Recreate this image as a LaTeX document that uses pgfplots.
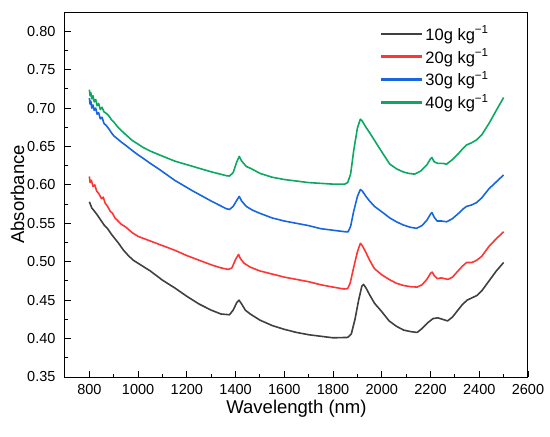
\documentclass[border=0pt]{standalone}
\usepackage{fontspec}
\setmainfont{Liberation Sans}
\usepackage{pgfplots}
\pgfplotsset{compat=1.18}
\definecolor{cA}{HTML}{404040}
\definecolor{cB}{HTML}{FF3535}
\definecolor{cC}{HTML}{1766E0}
\definecolor{cD}{HTML}{0AA860}
\begin{document}
\begin{tikzpicture}[x=1pt,y=1pt]
\begin{axis}[
  scale only axis, width=463pt, height=365pt,
  xmin=700, xmax=2600, ymin=0.35, ymax=0.825,
  xtick={800,1000,...,2600}, minor x tick num=1,
  ytick={0.35,0.40,...,0.801}, minor y tick num=1,
  yticklabel style={/pgf/number format/fixed, /pgf/number format/fixed zerofill, /pgf/number format/precision=2},
  xticklabel style={/pgf/number format/1000 sep={}},
  /pgf/number format/assume math mode=true,
  tick align=inside, xtick pos=bottom, ytick pos=left,
  major tick length=6pt, minor tick length=3pt,
  tick style={black, line width=0.9pt},
  axis line style={black, line width=1pt},
  ticklabel style={font=\fontsize{14.5}{17}\selectfont},
  yticklabel style={xshift=-6pt},
  xticklabel style={yshift=-4pt},
  xlabel={Wavelength (nm)}, ylabel={Absorbance},
  label style={font=\fontsize{18.5}{22}\selectfont},
  xlabel style={yshift=2pt},
  ylabel style={yshift=-4pt},
  legend style={draw=none, fill=none, at={(0.68,0.968)}, anchor=north west,
    font=\fontsize{16.5}{19}\selectfont, row sep=3.2pt, inner sep=0pt,
    /tikz/every even column/.append style={column sep=0pt}},
  legend cell align=left,
  legend image code/.code={\draw[#1, line width=2.4pt] (0pt,0pt) -- (41pt,0pt);},
  every axis plot/.append style={line width=1.6pt, line join=round},
]
\addplot[cA] coordinates {
(800,0.578)(810,0.570)(820,0.566)(830,0.562)(845,0.555)(860,0.548)(875,0.543)(890,0.536)(905,0.530)(920,0.524)(940,0.515)(960,0.508)(980,0.502)(1000,0.498)(1050,0.488)(1100,0.476)(1150,0.466)(1200,0.455)(1250,0.445)(1300,0.437)(1340,0.432)(1375,0.431)(1390,0.437)(1405,0.447)(1414,0.450)(1425,0.445)(1440,0.437)(1460,0.432)(1480,0.428)(1500,0.424)(1550,0.417)(1600,0.412)(1650,0.408)(1700,0.405)(1750,0.403)(1800,0.401)(1860,0.4015)(1875,0.406)(1890,0.425)(1905,0.450)(1918,0.468)(1925,0.4705)(1935,0.466)(1950,0.457)(1970,0.446)(2000,0.435)(2030,0.423)(2060,0.416)(2090,0.411)(2120,0.409)(2145,0.408)(2165,0.413)(2190,0.421)(2210,0.426)(2230,0.427)(2250,0.425)(2270,0.423)(2290,0.428)(2310,0.436)(2330,0.444)(2350,0.450)(2370,0.453)(2390,0.456)(2410,0.462)(2440,0.475)(2470,0.488)(2500,0.499)
};
\addlegendentry{10g kg\textsuperscript{−1}}
\addplot[cB] coordinates {
(800,0.611)(803,0.603)(808,0.606)(815,0.598)(822,0.600)(830,0.592)(840,0.588)(850,0.582)(857,0.584)(865,0.576)(875,0.572)(885,0.566)(895,0.563)(905,0.557)(915,0.554)(930,0.549)(950,0.545)(975,0.538)(1000,0.533)(1050,0.527)(1100,0.521)(1150,0.515)(1200,0.508)(1250,0.502)(1300,0.496)(1340,0.492)(1370,0.490)(1385,0.492)(1400,0.503)(1412,0.5095)(1420,0.504)(1435,0.498)(1460,0.493)(1500,0.488)(1550,0.484)(1600,0.480)(1650,0.477)(1700,0.474)(1750,0.470)(1800,0.467)(1845,0.4645)(1860,0.465)(1870,0.472)(1885,0.493)(1900,0.513)(1912,0.524)(1920,0.521)(1935,0.512)(1950,0.502)(1970,0.491)(2000,0.483)(2030,0.477)(2060,0.472)(2090,0.469)(2120,0.4675)(2145,0.467)(2165,0.470)(2185,0.477)(2200,0.485)(2207,0.4865)(2215,0.482)(2228,0.478)(2245,0.479)(2258,0.478)(2272,0.477)(2290,0.480)(2310,0.487)(2330,0.494)(2348,0.499)(2370,0.499)(2390,0.502)(2410,0.507)(2440,0.520)(2470,0.530)(2500,0.539)
};
\addlegendentry{20g kg\textsuperscript{−1}}
\addplot[cC] coordinates {
(800,0.713)(803,0.705)(806,0.709)(810,0.700)(815,0.704)(820,0.697)(826,0.700)(832,0.692)(838,0.694)(845,0.686)(852,0.688)(860,0.680)(870,0.677)(882,0.672)(890,0.668)(900,0.664)(915,0.660)(930,0.656)(951,0.651)(975,0.645)(1000,0.639)(1019,0.635)(1050,0.628)(1088,0.620)(1150,0.606)(1225,0.592)(1300,0.579)(1362,0.569)(1375,0.568)(1390,0.572)(1405,0.580)(1415,0.585)(1425,0.579)(1444,0.572)(1470,0.567)(1500,0.563)(1550,0.557)(1600,0.553)(1650,0.550)(1700,0.547)(1750,0.543)(1800,0.541)(1850,0.539)(1862,0.539)(1872,0.546)(1885,0.566)(1900,0.585)(1912,0.594)(1920,0.592)(1935,0.585)(1950,0.579)(1970,0.572)(2000,0.565)(2033,0.557)(2060,0.552)(2087,0.548)(2115,0.545)(2142,0.5435)(2165,0.547)(2185,0.554)(2200,0.562)(2206,0.564)(2215,0.558)(2227,0.553)(2245,0.553)(2266,0.552)(2290,0.556)(2315,0.563)(2335,0.569)(2348,0.572)(2370,0.574)(2389,0.577)(2410,0.583)(2440,0.595)(2470,0.604)(2500,0.613)
};
\addlegendentry{30g kg\textsuperscript{−1}}
\addplot[cD] coordinates {
(800,0.724)(803,0.716)(806,0.720)(810,0.712)(815,0.716)(820,0.708)(826,0.711)(832,0.703)(838,0.706)(845,0.698)(852,0.701)(860,0.695)(870,0.693)(882,0.689)(890,0.685)(900,0.682)(915,0.676)(930,0.671)(951,0.665)(975,0.658)(1000,0.653)(1019,0.649)(1050,0.644)(1088,0.639)(1150,0.631)(1225,0.624)(1300,0.617)(1362,0.612)(1375,0.6115)(1390,0.616)(1405,0.630)(1415,0.637)(1425,0.631)(1444,0.624)(1465,0.621)(1500,0.615)(1550,0.610)(1600,0.607)(1650,0.605)(1700,0.603)(1750,0.602)(1800,0.601)(1848,0.601)(1860,0.603)(1872,0.614)(1885,0.645)(1900,0.674)(1912,0.6855)(1920,0.683)(1935,0.675)(1950,0.668)(1970,0.658)(2000,0.643)(2033,0.627)(2060,0.621)(2087,0.617)(2110,0.615)(2135,0.614)(2160,0.618)(2185,0.626)(2200,0.634)(2206,0.6355)(2215,0.630)(2230,0.628)(2250,0.628)(2266,0.627)(2290,0.633)(2315,0.641)(2335,0.648)(2348,0.652)(2370,0.655)(2389,0.6586)(2410,0.665)(2440,0.680)(2470,0.697)(2500,0.7137)
};
\addlegendentry{40g kg\textsuperscript{−1}}
\end{axis}
\path (current axis.south west) ++(-65pt,-60pt) rectangle ++(550pt,437pt);
\end{tikzpicture}
\end{document}
